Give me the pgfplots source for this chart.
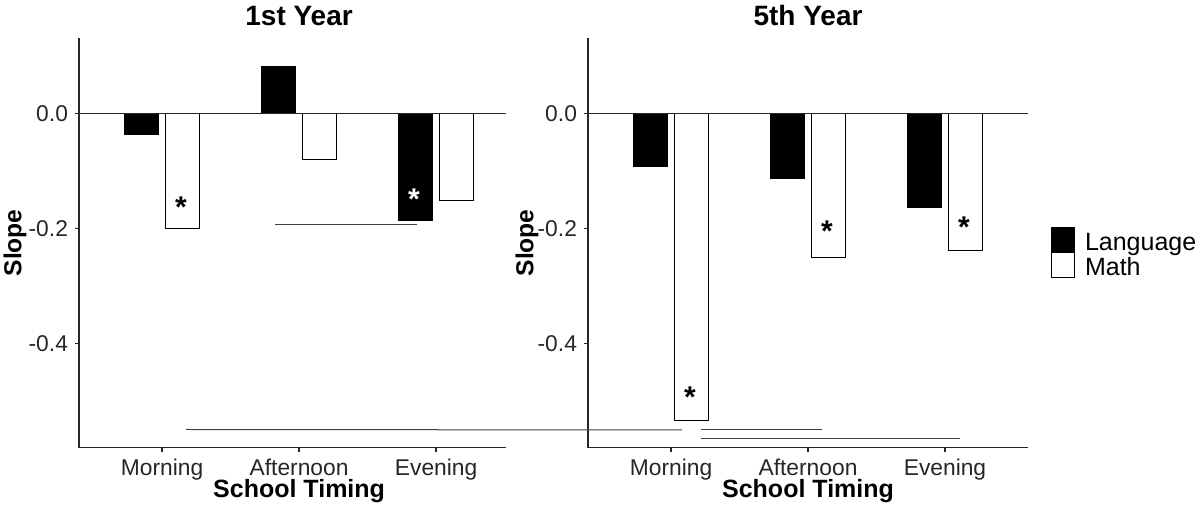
\documentclass[border=0pt]{standalone}
\usepackage{pgfplots}
\pgfplotsset{compat=1.18}
\usepackage{fontspec}
\setmainfont{Liberation Sans}

\pgfplotsset{
  panel/.style={
    scale only axis, height=204.85pt,
    ymin=-0.5816, ymax=0.131,
    axis x line*=bottom, axis y line*=left,
    axis line style={black!85, line width=0.65pt, -},
    ytick={-0.4,-0.2,0}, yticklabels={-0.4,-0.2,0.0},
    xtick={0,1,2}, xticklabels={Morning,Afternoon,Evening},
    major tick style={black!85, line width=0.65pt},
    tick align=outside, major tick length=2pt,
    tick label style={font=\fontsize{11.4}{13}\selectfont, text=black!85},
    ybar, bar width=0.25,
    xlabel style={font=\bfseries\fontsize{12.5}{14}\selectfont, anchor=base},
    ylabel style={font=\bfseries\fontsize{12.3}{14}\selectfont, anchor=center},
    title style={font=\bfseries\fontsize{14}{16}\selectfont, anchor=base},
    clip=false,
  },
  lang/.style={fill=black, draw=black, line width=0.5pt, bar shift=-0.15,
    legend image code/.code={\draw[##1, line width=0.5pt, overlay] (0pt,-5pt) rectangle (11.5pt,7.5pt);
      \path[draw=none, fill=none] (0pt,0pt) -- (11.5pt,0pt);}},
  math/.style={fill=white, draw=black, line width=0.5pt, bar shift=0.15,
    legend image code/.code={\draw[##1, line width=0.5pt, overlay] (0pt,-5pt) rectangle (11.5pt,7.5pt);
      \path[draw=none, fill=none] (0pt,0pt) -- (11.5pt,0pt);}},
}
\tikzset{sigstar/.style={font=\bfseries\fontsize{15}{17}\selectfont, anchor=base, yshift=-7.2pt, xshift=-0.8pt, inner sep=0pt}}

\begin{document}
\begin{tikzpicture}
\begin{axis}[panel, at={(39.5pt,30.15pt)}, anchor=south west, width=213.5pt,
  xmin=-0.606, xmax=2.51,
  title={1st Year}, title style={at={(axis description cs:0.5154,1)}, yshift=0.5pt},
  xlabel={School Timing}, xlabel style={at={(axis description cs:0.5154,0)}, yshift=-25pt},
  ylabel={Slope}, ylabel style={at={(axis description cs:-0.1499,0.5)}},
]
\addplot[lang] coordinates {(0,-0.0365) (1,0.081) (2,-0.186)};
\addplot[math] coordinates {(0,-0.200) (1,-0.0795) (2,-0.152)};
\draw[black!85, line width=0.65pt] (axis cs:-0.606,0) -- (axis cs:2.51,0);
\node[sigstar] at (axis cs:0.15,-0.156) {*};
\node[sigstar, text=white] at (axis cs:1.85,-0.142) {*};
\draw[black!75, line width=0.5pt] (axis cs:0.825,-0.193) -- (axis cs:1.861,-0.193);
\end{axis}

\begin{axis}[panel, at={(294pt,30.15pt)}, anchor=south west, width=220pt,
  xmin=-0.606, xmax=2.606,
  title={5th Year}, title style={at={(axis description cs:0.5,1)}, yshift=0.5pt},
  xlabel={School Timing}, xlabel style={at={(axis description cs:0.5,0)}, yshift=-25pt},
  ylabel={Slope}, ylabel style={at={(axis description cs:-0.1386,0.5)}},
  legend style={at={(axis description cs:1.0523,0.5314)}, anchor=north west,
    draw=none, fill=none, inner sep=0pt, outer sep=0pt, row sep=0pt, column sep=5.5pt,
    nodes={inner sep=0pt, text height=10.5pt, text depth=2pt,
      font=\fontsize{12.5}{14}\selectfont}},
  legend cell align=left,
]
\addplot[lang] coordinates {(0,-0.0917) (1,-0.114) (2,-0.163)};
\addplot[math] coordinates {(0,-0.535) (1,-0.250) (2,-0.238)};
\legend{Language,Math}
\draw[black!85, line width=0.65pt] (axis cs:-0.606,0) -- (axis cs:2.606,0);
\node[sigstar] at (axis cs:0.15,-0.487) {*};
\node[sigstar] at (axis cs:1.15,-0.198) {*};
\node[sigstar] at (axis cs:2.15,-0.191) {*};
\end{axis}

\draw[black!75, line width=0.5pt] (93pt,39.25pt) -- (341pt,39pt);
\draw[black!75, line width=0.5pt] (350.5pt,39pt) -- (411pt,39pt);
\draw[black!75, line width=0.5pt] (350.5pt,34.75pt) -- (480pt,34.75pt);
\pgfresetboundingbox
\path[use as bounding box] (0,0) rectangle (600pt,254pt);
\end{tikzpicture}
\end{document}
